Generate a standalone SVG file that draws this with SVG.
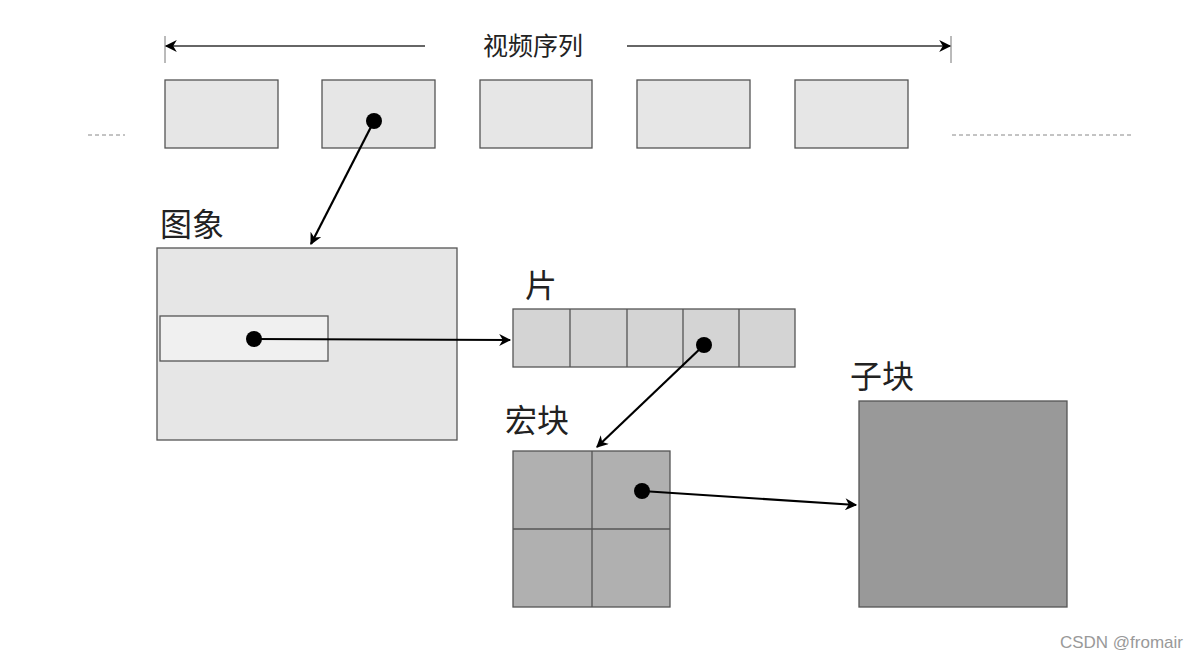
<svg xmlns="http://www.w3.org/2000/svg" width="1193" height="663" viewBox="0 0 1193 663">
<style>
.b{stroke:#555;stroke-width:1.3}
.c{stroke:#000;stroke-width:2.2;fill:none}
.t{font-family:"Liberation Serif","Noto Sans CJK SC",serif;fill:#222}
</style>
<defs>
<marker id="a" viewBox="0 0 10 10" refX="9" refY="5" markerWidth="7" markerHeight="7" orient="auto-start-reverse" markerUnits="userSpaceOnUse"><path d="M0,0L10,5L0,10L3,5z" fill="#000"/></marker>
<marker id="ah" viewBox="0 0 10 10" refX="9" refY="5" markerWidth="14" markerHeight="12" orient="auto-start-reverse" markerUnits="userSpaceOnUse"><path d="M0,0L10,5L0,10L3,5z" fill="#000"/></marker>
</defs>
<rect width="1193" height="663" fill="#fff"/>
<g id="sequence">
<line x1="165" y1="36" x2="165" y2="63" stroke="#777"/>
<line x1="951" y1="36" x2="951" y2="63" stroke="#777"/>
<line x1="166" y1="46" x2="425" y2="46" stroke="#333" stroke-width="1.5" marker-start="url(#ah)"/>
<line x1="627" y1="46" x2="950" y2="46" stroke="#333" stroke-width="1.5" marker-end="url(#ah)"/>
<text class="t" x="533" y="55" font-size="25" text-anchor="middle" fill="#555">视频序列</text>
<rect class="b" x="165" y="80" width="113" height="68" fill="#e6e6e6"/>
<rect class="b" x="322" y="80" width="113" height="68" fill="#e6e6e6"/>
<rect class="b" x="480" y="80" width="112" height="68" fill="#e6e6e6"/>
<rect class="b" x="637" y="80" width="113" height="68" fill="#e6e6e6"/>
<rect class="b" x="795" y="80" width="113" height="68" fill="#e6e6e6"/>
<line x1="88" y1="135" x2="125" y2="135" stroke="#888" stroke-dasharray="4,3"/>
<line x1="952" y1="135" x2="1132" y2="135" stroke="#888" stroke-dasharray="4,3"/>
</g>
<g id="picture">
<text class="t" x="160" y="236" font-size="32">图象</text>
<rect class="b" x="157" y="248" width="300" height="192" fill="#e6e6e6"/>
<rect class="b" x="160" y="316" width="168" height="45" fill="#f0f0f0"/>
</g>
<g id="slice">
<text class="t" x="525" y="297" font-size="32">片</text>
<rect class="b" x="513" y="309" width="282" height="58" fill="#d4d4d4"/>
<path class="b" d="M570,309V367M627,309V367M683,309V367M739,309V367"/>
</g>
<g id="macroblock">
<text class="t" x="505" y="432" font-size="32">宏块</text>
<rect class="b" x="513" y="451" width="157" height="156" fill="#b0b0b0"/>
<path class="b" d="M592,451V607M513,529H670"/>
</g>
<g id="subblock">
<text class="t" x="850" y="388" font-size="32">子块</text>
<rect class="b" x="859" y="401" width="208" height="206" fill="#999"/>
</g>
<g id="connectors">
<circle cx="374" cy="121" r="8"/>
<line class="c" x1="374" y1="121" x2="311" y2="244" marker-end="url(#ah)"/>
<circle cx="254" cy="339" r="8"/>
<line class="c" x1="254" y1="339" x2="510" y2="340" marker-end="url(#ah)"/>
<circle cx="704" cy="345" r="8"/>
<line class="c" x1="704" y1="345" x2="597" y2="447" marker-end="url(#ah)"/>
<circle cx="642" cy="491" r="8"/>
<line class="c" x1="642" y1="491" x2="856" y2="505" marker-end="url(#ah)"/>
</g>
<text x="1183" y="648" font-family="Liberation Sans,sans-serif" font-size="17" fill="#999" text-anchor="end">CSDN @fromair</text>
</svg>
